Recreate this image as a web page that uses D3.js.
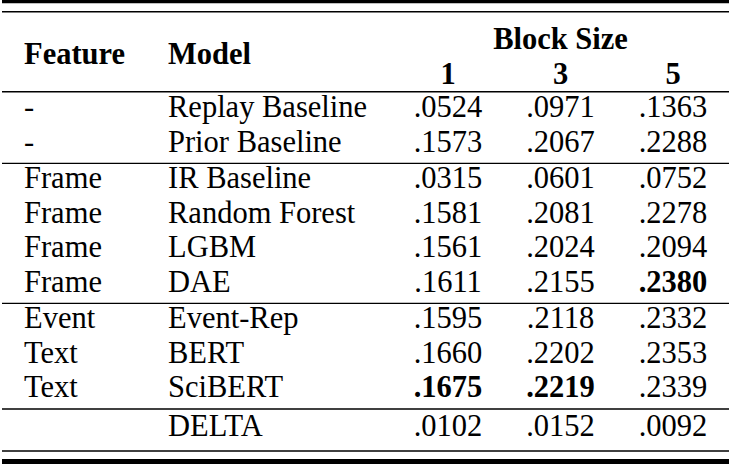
<!DOCTYPE html>
<html>
<head>
<meta charset="utf-8">
<script src="https://cdn.jsdelivr.net/npm/d3@7"></script>
<style>
  body { margin: 0; background: #fff; }
  svg text { font-family: "Liberation Serif", "Times New Roman", serif; fill: #000; }
</style>
</head>
<body>
<div class="tbl"></div>
<script>
// table data
var features = ["-", "-", "Frame", "Frame", "Frame", "Frame", "Event", "Text", "Text", ""];
var models = ["Replay Baseline", "Prior Baseline", "IR Baseline", "Random Forest", "LGBM", "DAE",
              "Event-Rep", "BERT", "SciBERT", "DELTA"];
var groups = [0, 0, 1, 1, 1, 1, 2, 2, 2, 3];
var blockSizes = ["1", "3", "5"];
var block1 = [0.0524, 0.1573, 0.0315, 0.1581, 0.1561, 0.1611, 0.1595, 0.1660, 0.1675, 0.0102];
var block3 = [0.0971, 0.2067, 0.0601, 0.2081, 0.2024, 0.2155, 0.2118, 0.2202, 0.2219, 0.0152];
var block5 = [0.1363, 0.2288, 0.0752, 0.2278, 0.2094, 0.2380, 0.2332, 0.2353, 0.2339, 0.0092];
var columns = [block1, block3, block5];

var width = 731, height = 464;
var fontSize = 30.5;

var svg = d3.select(".tbl").append("svg")
  .attr("width", width)
  .attr("height", height);

var rowIndex = d3.range(models.length);
var yRow = d3.scaleLinear().domain([0, 9]).range([117.2, 117.2 + 9 * 34.4]);
function baseY(i) { return yRow(i) + groups[i] * 2.4; }

var xNum = d3.scalePoint().domain(blockSizes).range([448, 673]);
var xFeature = 24, xModel = 168;

var fmt = function(v) { return d3.format(".4f")(v).replace(/^0/, ""); };

function addText(x, y, str, anchor, bold) {
  svg.append("text")
    .attr("x", x)
    .attr("y", y)
    .attr("text-anchor", anchor)
    .attr("font-size", fontSize)
    .attr("font-weight", bold ? "bold" : "normal")
    .text(str);
}

// rules
function rule(y, w) {
  svg.append("line")
    .attr("x1", 2).attr("x2", width - 2)
    .attr("y1", y).attr("y2", y)
    .attr("stroke", "#000")
    .attr("stroke-width", w);
}
rule(1.6, 3.4);
rule(11.7, 1.4);
rule(91.7, 1.4);
rowIndex.forEach(function(i) {
  if (i > 0 && groups[i] != groups[i - 1]) rule(baseY(i) - 25, 1.4);
});
rule(451, 1.4);
rule(461.5, 5);

// header
addText(xFeature, 64, "Feature", "start", true);
addText(xModel, 64, "Model", "start", true);
addText(xNum("3"), 49, "Block Size", "middle", true);
blockSizes.forEach(function(b) { addText(xNum(b), 84.3, b, "middle", true); });

// best value per column (model rows only)
var best = columns.map(function(col) { return d3.max(col.slice(0, 9)); });

rowIndex.forEach(function(i) {
  var y = baseY(i);
  if (i == 9) y += 1.5;
  addText(xFeature, y, features[i], "start", false);
  addText(xModel, y, models[i], "start", false);
  columns.forEach(function(col, c) {
    addText(xNum(blockSizes[c]), y, fmt(col[i]), "middle", i < 9 && col[i] == best[c]);
  });
});
</script>
</body>
</html>
